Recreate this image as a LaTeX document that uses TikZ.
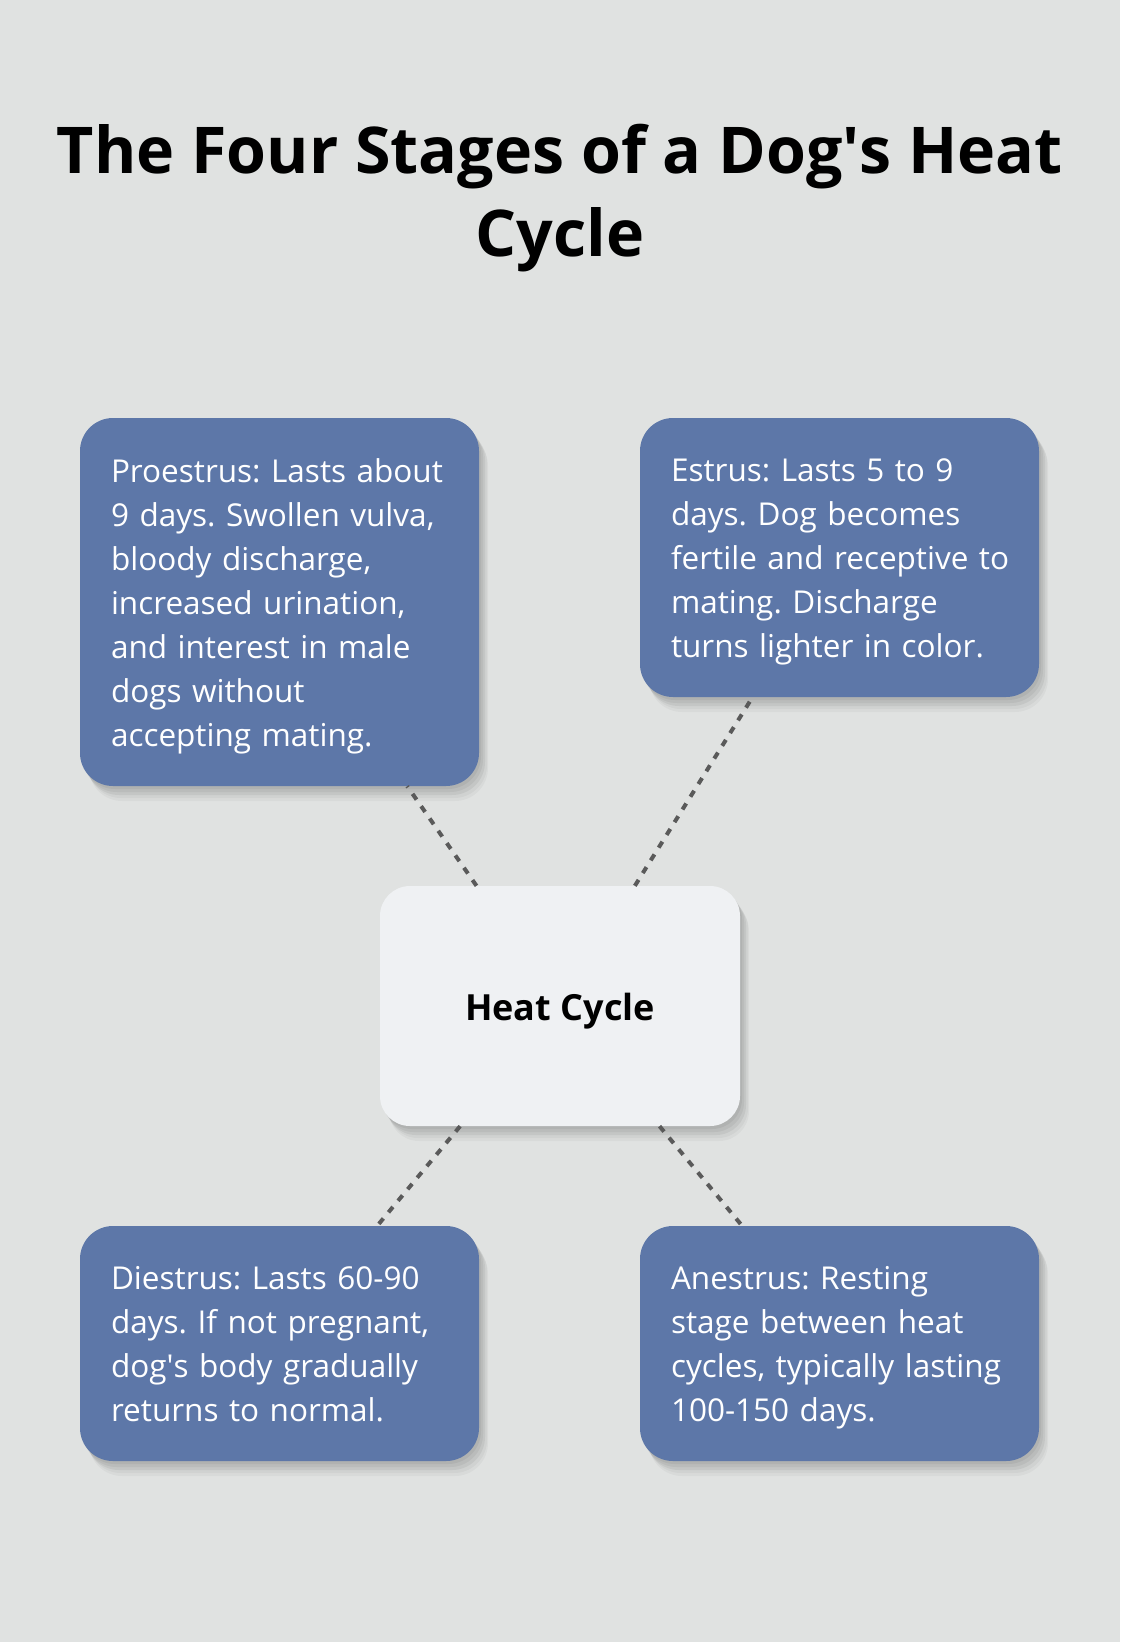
\documentclass[tikz,border=0pt]{standalone}
\usepackage{fontspec}
\setmainfont{Open Sans}
\definecolor{pagebg}{HTML}{E0E2E1}
\definecolor{stageblue}{HTML}{5D77A8}
\definecolor{hubfill}{HTML}{EFF1F3}
\definecolor{linkgray}{HTML}{5A5A5A}
\tikzset{
  softshadow/.style={
    preaction={fill=black, opacity=0.05, transform canvas={xshift=2pt,yshift=-3pt}},
    preaction={fill=black, opacity=0.05, transform canvas={xshift=4pt,yshift=-6pt}},
    preaction={fill=black, opacity=0.05, transform canvas={xshift=6pt,yshift=-9pt}},
    preaction={fill=black, opacity=0.04, transform canvas={xshift=8pt,yshift=-12pt}},
    preaction={fill=black, opacity=0.03, transform canvas={xshift=9pt,yshift=-15pt}}
  },
  stage/.style={
    shape = rectangle,
    rounded corners = 33pt,
    fill = stageblue,
    text = white,
    text width = 345pt,
    inner xsep = 27pt,
    inner ysep = 0pt,
    align = left,
    font = \fontsize{31.5}{44}\selectfont,
    execute at begin node = {\leftskip=4pt\relax\rule{0pt}{32pt}},
    execute at end node = {\rule[-8pt]{0pt}{0pt}},
    softshadow
  },
  hub/.style={
    shape = rectangle,
    rounded corners = 30pt,
    fill = hubfill,
    minimum width = 360pt,
    minimum height = 240pt,
    text height = 30pt,
    text depth = 2pt,
    font = \fontsize{36}{44}\selectfont\bfseries,
    softshadow
  },
  link/.style={
    draw = linkgray,
    line width = 4pt,
    dash pattern = on 7pt off 8pt
  },
  title/.style={
    font = \fontsize{64.5}{83}\selectfont\bfseries,
    align = center
  }
}

\begin{document}
\frenchspacing
\begin{tikzpicture}[x=1pt,y=-1pt]
        \fill[pagebg] (0,0) rectangle (1120,1642);
        \useasboundingbox (0,0) rectangle (1120,1642);

        % title
        \node[title, anchor=base] (ttl) at (560,256) {The Four Stages of a Dog\textquotesingle s Heat\\Cycle};

        % hub and stages
        \node[hub] (hub) at (560,1006) {Heat Cycle};

        \node[stage, minimum height=368pt] (proestrus) at (279.5,602) {Proestrus: Lasts about\\9 days. Swollen vulva,\\bloody discharge,\\increased urination,\\and interest in male\\dogs without\\accepting mating.};
        \node[stage, minimum height=279pt] (estrus) at (839.5,557.5) {Estrus: Lasts 5 to 9\\days. Dog becomes\\fertile and receptive to\\mating. Discharge\\turns lighter in color.};
        \node[stage, minimum height=235pt] (diestrus) at (279.5,1343.5) {Diestrus: Lasts 60-90\\days. If not pregnant,\\dog\textquotesingle s body gradually\\returns to normal.};
        \node[stage, minimum height=235pt] (anestrus) at (839.5,1343.5) {Anestrus: Resting\\stage between heat\\cycles, typically lasting\\100-150 days.};

        % links
        \draw[link] (hub) -- (proestrus);
        \draw[link] (hub) -- (estrus);
        \draw[link] (hub) -- (diestrus);
        \draw[link] (hub) -- (anestrus);
\end{tikzpicture}
\end{document}
